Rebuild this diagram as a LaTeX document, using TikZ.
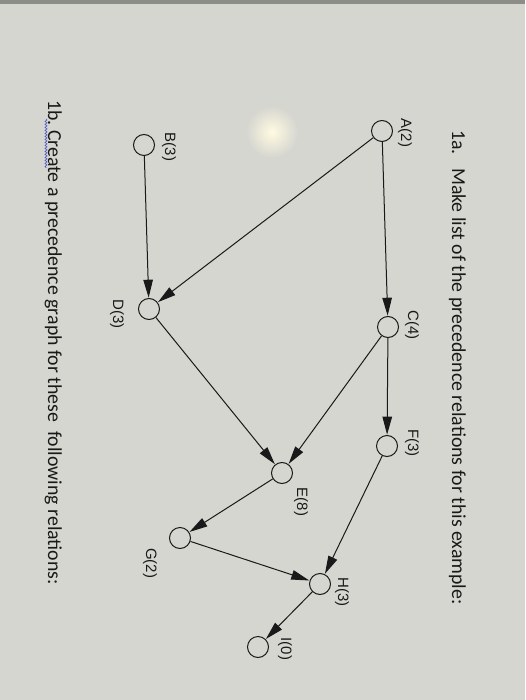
\documentclass[tikz,border=0pt]{standalone}
\usepackage{fontspec}
\setmainfont{Carlito}
\newfontfamily\labfont{Liberation Sans}
\usetikzlibrary{arrows.meta,decorations.pathmorphing}
\definecolor{bg}{RGB}{214,214,208}
\definecolor{bgtop}{RGB}{140,140,136}
\definecolor{ink}{RGB}{25,25,25}
\definecolor{spell}{RGB}{70,80,200}
\definecolor{glow}{RGB}{255,250,225}
\begin{document}
\begin{tikzpicture}[x=1pt,y=-1pt,
  vtx/.style={circle,draw=ink,line width=1pt,minimum size=21pt,inner sep=0pt},
  edge/.style={draw=ink,line width=1pt,-{Triangle[length=18pt,width=9.5pt]},shorten >=0.3pt},
  lab/.style={rotate=-90,text=ink,font=\labfont\fontsize{15}{17}\selectfont,inner sep=0pt},
  head/.style={rotate=-90,text=ink,font=\fontsize{19.8}{22}\selectfont,inner sep=0pt,anchor=base west}]
\useasboundingbox (0,0) rectangle (525,700);
\fill[bg] (0,0) rectangle (525,700);
\fill[bgtop] (0,0) rectangle (525,4);
\shade[inner color=glow,outer color=bg] (272,132) circle (26);
% headings
\node[head] (t1) at (452,130) {1a.\ \ \ Make list of the precedence relations for this example:};
\node[head] (t2) at (48,100) {1b.\ Create a precedence graph for these\ \ following relations:};
\draw[spell,line width=0.6pt,decorate,decoration={snake,amplitude=1pt,segment length=3pt}] (46,119) -- (46,168);
% vertices
\node[vtx] (A) at (382,131) {};
\node[vtx] (B) at (144,145) {};
\node[vtx] (C) at (388,327) {};
\node[vtx] (F) at (387,446) {};
\node[vtx] (D) at (149,309) {};
\node[vtx] (E) at (282,473) {};
\node[vtx] (G) at (180,538) {};
\node[vtx] (H) at (320,584) {};
\node[vtx] (I) at (258,647) {};
% labels
\node[lab] (lA) at (405,133) {A(2)};
\node[lab] (lB) at (169,147) {B(3)};
\node[lab] (lC) at (412,325) {C(4)};
\node[lab] (lF) at (412,443) {F(3)};
\node[lab] (lD) at (117,314) {D(3)};
\node[lab] (lE) at (301,502) {E(8)};
\node[lab] (lG) at (150,563) {G(2)};
\node[lab] (lH) at (342,592) {H(3)};
\node[lab] (lI) at (285,649) {I(0)};
% edges
\draw[edge] (A) -- (C);
\draw[edge] (A) -- (D);
\draw[edge] (B) -- (D);
\draw[edge] (C) -- (F);
\draw[edge] (C) -- (E);
\draw[edge] (D) -- (E);
\draw[edge] (F) -- (H);
\draw[edge] (E) -- (G);
\draw[edge] (G) -- (H);
\draw[edge] (H) -- (I);
\end{tikzpicture}
\end{document}
